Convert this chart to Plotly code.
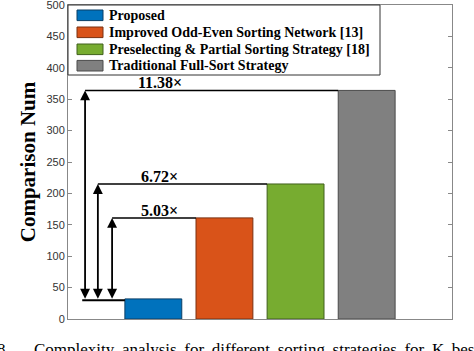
import plotly.graph_objects as go

# ---- data ----
strategies = ["Proposed", "Improved Odd-Even Sorting Network [13]",
              "Preselecting & Partial Sorting Strategy [18]", "Traditional Full-Sort Strategy"]
positions = [1, 2, 3, 4]
comparisons = [32, 161, 215, 364]
colors = ["#0072BD", "#D95319", "#77AC30", "#808080"]
edge_colors = ["#0b3f66", "#7a3110", "#41601c", "#4a4a4a"]
ratio_labels = ["5.03×", "6.72×", "11.38×"]   # proposed vs. strategies 2,3,4
base_level = 30
yticks = [0, 50, 100, 150, 200, 250, 300, 350, 400, 450, 500]

# ---- layout constants ----
W, H = 474, 351
ML, MR, MT, MB = 68, 22, 5, 32
PW, PH = W - ML - MR, H - MT - MB
bar_width = 0.8
arrow_x = [0.42, 0.22, 0.04]   # arrow columns for strategies 2,3,4
label_x = 1.09
serif = "Liberation Serif, Times New Roman, serif"
sans = "Liberation Sans, Arial, sans-serif"


def px(xp):
    return (xp - ML) / PW


def py(yp):
    return (H - MB - yp) / PH


fig = go.Figure()
for name, p, v, c, ec in zip(strategies, positions, comparisons, colors, edge_colors):
    fig.add_trace(go.Bar(x=[p], y=[v], name=name, width=bar_width, showlegend=False,
                         marker=dict(color=c, line=dict(color=ec, width=1))))

shapes = []
annotations = []
# base line at the proposed level
shapes.append(dict(type="line", xref="x", yref="y", x0=0.0, x1=positions[0] - bar_width / 2,
                   y0=base_level, y1=base_level, line=dict(color="black", width=2)))
for ax_x, p, v, lab in zip(arrow_x, positions[1:], comparisons[1:], ratio_labels):
    shapes.append(dict(type="line", xref="x", yref="y", x0=ax_x, x1=p - bar_width / 2,
                       y0=v, y1=v, line=dict(color="black", width=1.5)))
    annotations.append(dict(x=ax_x, y=v, ax=ax_x, ay=base_level, xref="x", yref="y",
                            axref="x", ayref="y", text="", showarrow=True,
                            arrowside="end+start", arrowhead=2, arrowsize=1.1,
                            arrowwidth=1.8, arrowcolor="black", standoff=0, startstandoff=0))
    annotations.append(dict(x=label_x, y=v, xref="x", yref="y", text=lab, showarrow=False,
                            xanchor="center", yanchor="bottom", yshift=-3,
                            font=dict(family=serif, size=16, color="black", weight="bold")))

# ---- legend (drawn as a boxed key in the upper left) ----
shapes.append(dict(type="rect", xref="paper", yref="paper", x0=px(68), x1=px(380),
                   y0=py(75), y1=py(5), fillcolor="white", line=dict(color="#333", width=1),
                   layer="above"))
entry_y = [15.3, 32.3, 49.3, 65.7]
for name, c, ec, ey in zip(strategies, colors, edge_colors, entry_y):
    shapes.append(dict(type="rect", xref="paper", yref="paper", x0=px(77), x1=px(103),
                       y0=py(ey + 5.3), y1=py(ey - 5.3), fillcolor=c,
                       line=dict(color=ec, width=1), layer="above"))
    annotations.append(dict(x=px(107), y=py(ey), xref="paper", yref="paper", text=name,
                            showarrow=False, xanchor="left", yanchor="middle",
                            font=dict(family=serif, size=14, color="black", weight="bold")))

# caption fragment (cut off in the source image)
cap_y = py(338)
annotations.append(dict(x=px(8), y=cap_y, xref="paper", yref="paper", text="8",
                        showarrow=False, xanchor="right", yanchor="top",
                        font=dict(family=serif, size=17, color="black")))
caption = "Complexity analysis for different sorting strategies for K best"
annotations.append(dict(x=px(32), y=cap_y, xref="paper", yref="paper",
                        text=caption.replace(" ", " \u2009"),
                        showarrow=False, xanchor="left", yanchor="top",
                        font=dict(family=serif, size=17, color="black")))

fig.update_layout(
    template="none",
    width=W, height=H,
    margin=dict(l=ML, r=MR, t=MT, b=MB),
    paper_bgcolor="white", plot_bgcolor="white",
    barmode="overlay", showlegend=False,
    shapes=shapes, annotations=annotations,
    xaxis=dict(range=[-0.2, 5.2], showticklabels=False, ticks="", showgrid=False,
               zeroline=False, showline=True, linecolor="#888", linewidth=1, mirror=True),
    yaxis=dict(range=[0, 500], tickvals=yticks, ticks="inside", ticklen=4, tickcolor="#888",
               showgrid=False, zeroline=False, showline=True, linecolor="#888", linewidth=1,
               mirror="ticks", ticklabeloverflow="allow",
               tickfont=dict(family=sans, size=11, color="#333"),
               title=dict(text="Comparison Num", standoff=5,
                          font=dict(family=serif, size=21, color="black", weight="bold"))),
)

fig.write_html("out.html")
